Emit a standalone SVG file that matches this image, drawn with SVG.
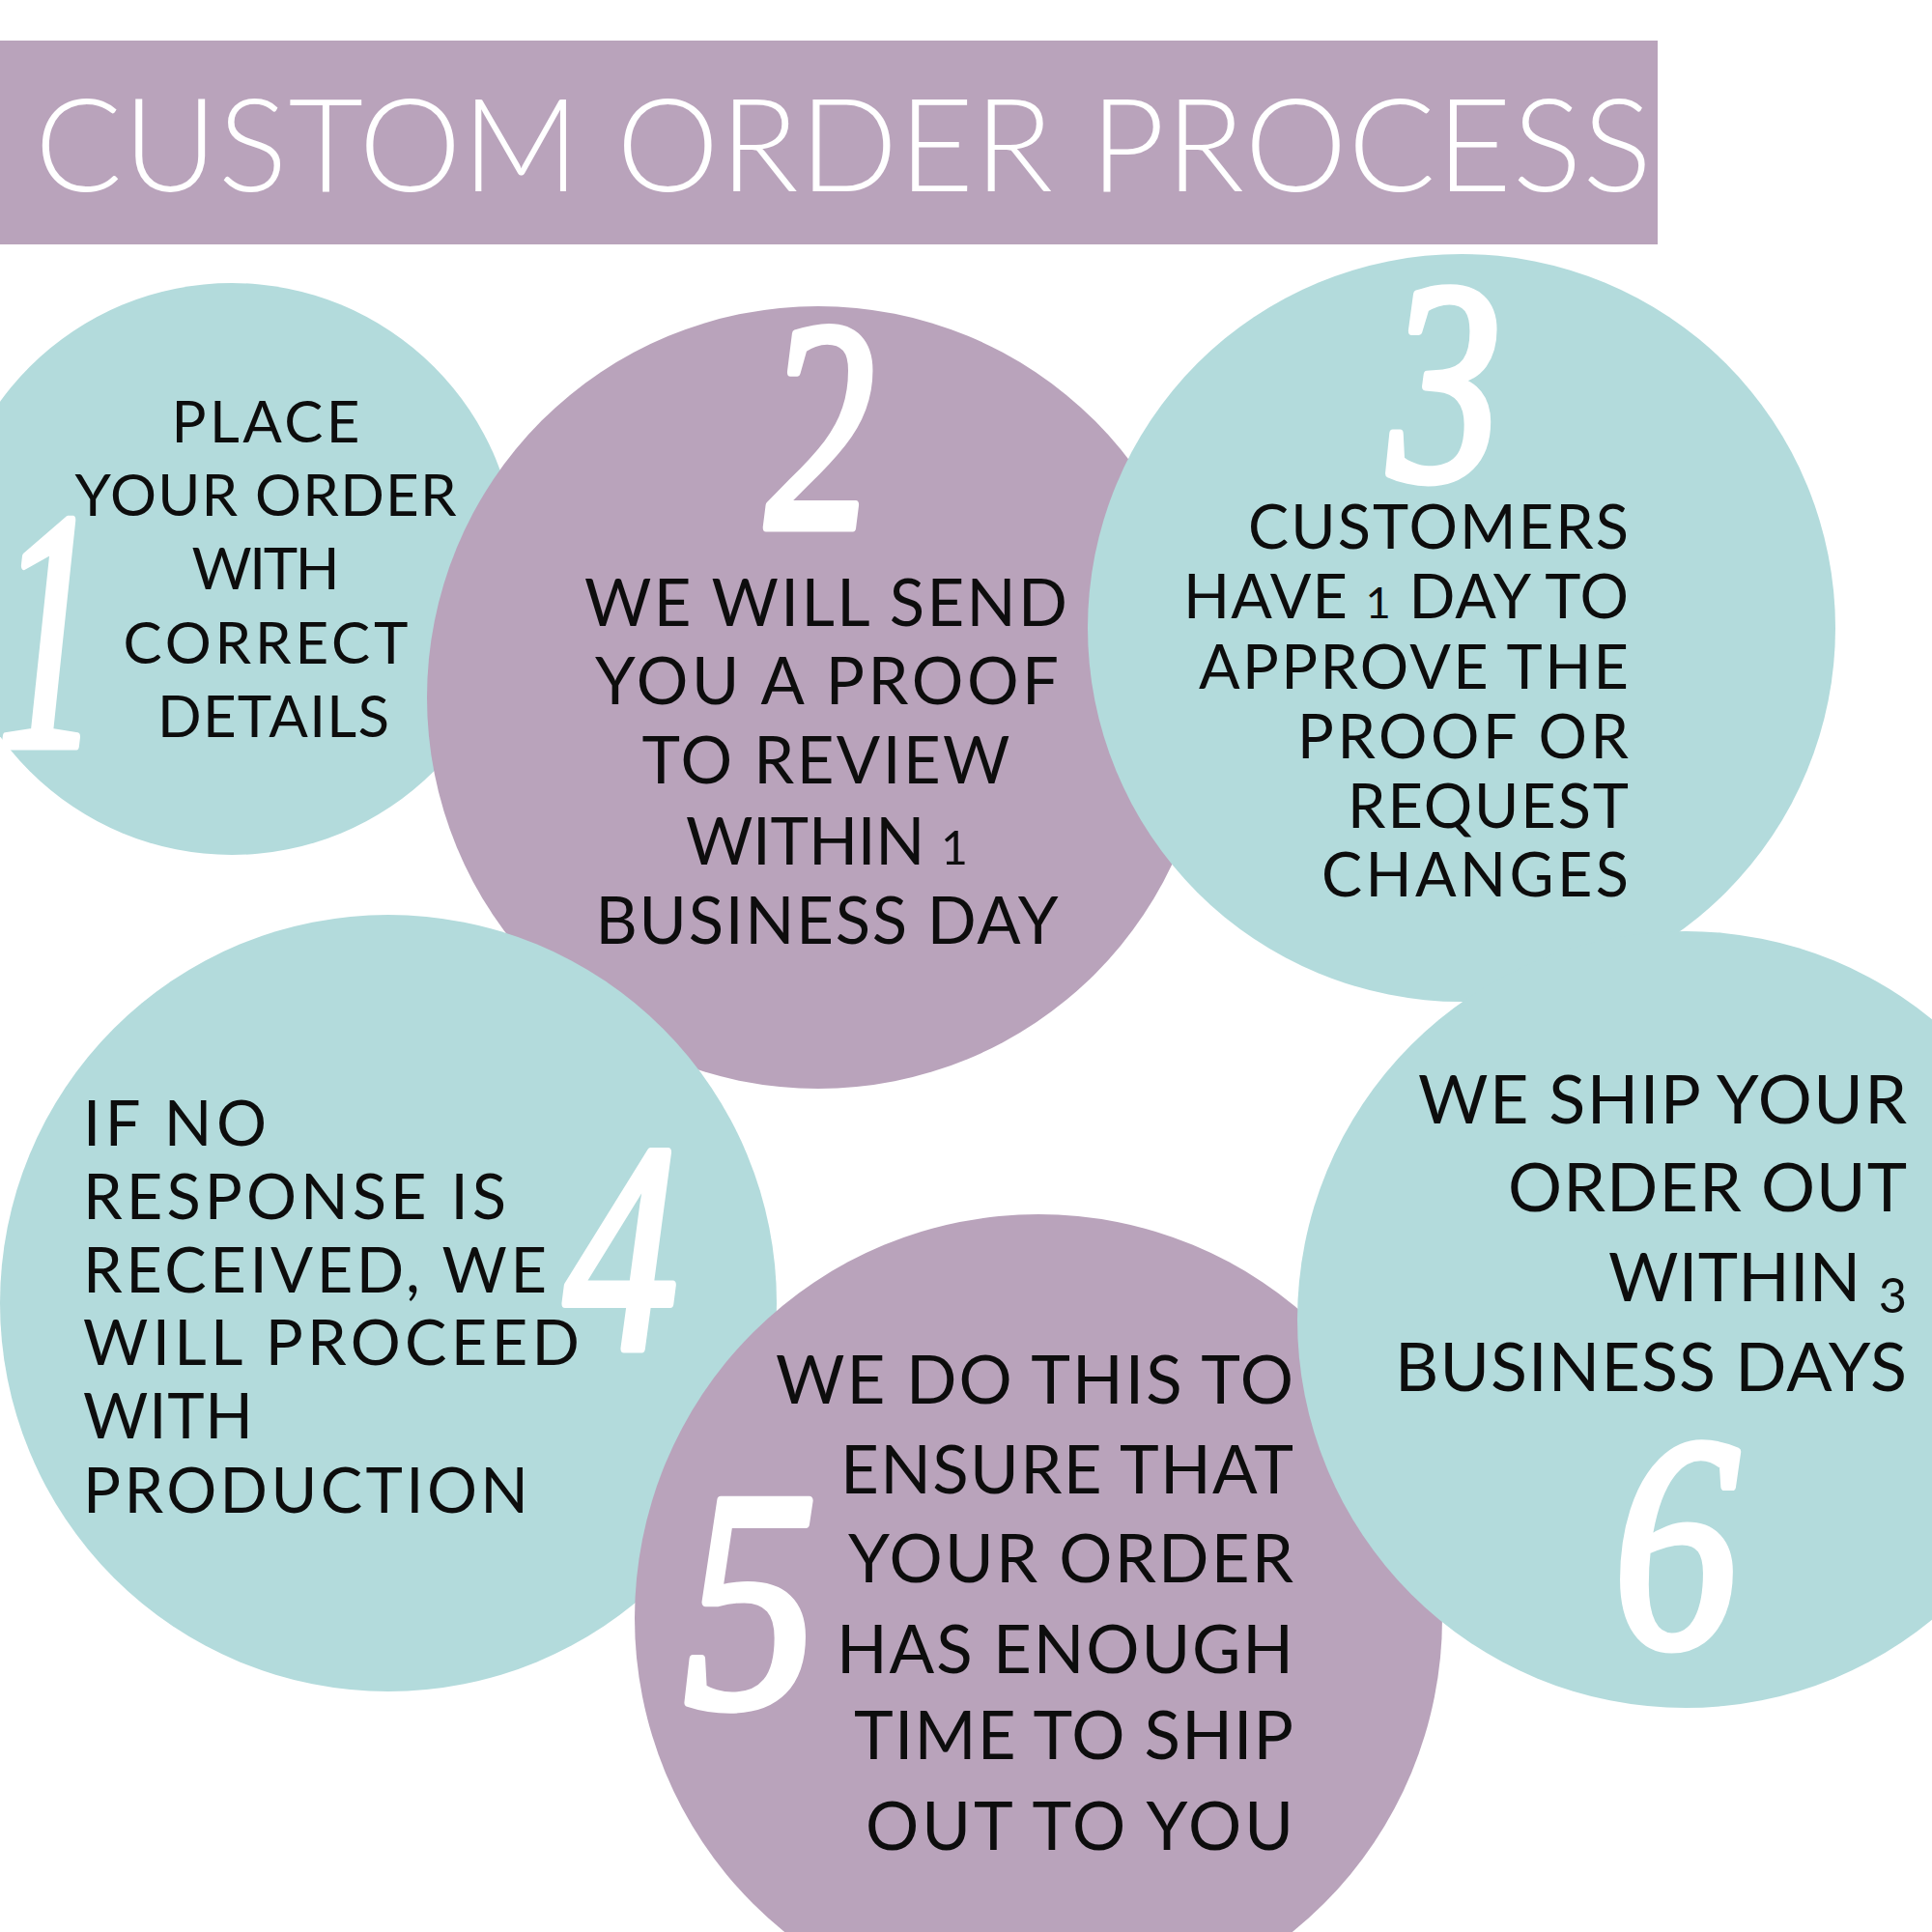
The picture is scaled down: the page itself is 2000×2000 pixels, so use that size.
<svg xmlns="http://www.w3.org/2000/svg" width="2000" height="2000" viewBox="0 0 2000 2000">
<style>
.teal{fill:#b3dbdc}
.purple{fill:#b9a3bb}
.t{font-family:Lato,"Open Sans","Liberation Sans",sans-serif;font-weight:400;fill:#0d0d0d}
.m{text-anchor:middle}
.e{text-anchor:end}
.num{font-family:"Liberation Serif","DejaVu Serif",serif;font-style:italic;fill:#fff;stroke:#fff;stroke-width:9;stroke-linejoin:round;text-anchor:middle}
.os{font-size:0.72em}
</style>
<rect width="2000" height="2000" fill="#fff"/>
<g id="title">
<rect x="0" y="42" width="1716" height="211" class="purple"/>
<text x="36" y="198" font-family="Lato,'Open Sans',sans-serif" font-weight="300" font-size="134" fill="#fff" textLength="1674" lengthAdjust="spacing">CUSTOM ORDER PROCESS</text>
</g>
<g id="step1">
<circle cx="240" cy="589" r="296" class="teal"/>
<text class="num" transform="translate(50,772) scale(0.6,1)" x="0" y="0" font-size="354">1</text>
<g class="t m" font-size="60">
<text x="275" y="458" textLength="195" lengthAdjust="spacing">PLACE</text>
<text x="275" y="534" textLength="395" lengthAdjust="spacing">YOUR ORDER</text>
<text x="275" y="610" textLength="153" lengthAdjust="spacing">WITH</text>
<text x="275" y="687" textLength="295" lengthAdjust="spacing">CORRECT</text>
<text x="283" y="763" textLength="240" lengthAdjust="spacing">DETAILS</text>
</g>
</g>
<g id="step2">
<circle cx="847" cy="722" r="405" class="purple"/>
<text class="num" transform="translate(849,546) scale(0.72,1)" x="0" y="0" font-size="312">2</text>
<g class="t m" font-size="67">
<text x="855" y="648" textLength="500" lengthAdjust="spacing">WE WILL SEND</text>
<text x="856" y="729" textLength="480" lengthAdjust="spacing">YOU A PROOF</text>
<text x="855" y="811" textLength="381" lengthAdjust="spacing">TO REVIEW</text>
<text x="856" y="895" textLength="292" lengthAdjust="spacing">WITHIN <tspan class="os">1</tspan></text>
<text x="856" y="977" textLength="479" lengthAdjust="spacing">BUSINESS DAY</text>
</g>
</g>
<g id="step3">
<circle cx="1513" cy="650" r="387" class="teal"/>
<text class="num" transform="translate(1496,496) scale(0.78,1)" x="0" y="0" font-size="298">3</text>
<g class="t e" font-size="63">
<text x="1686" y="568" textLength="394" lengthAdjust="spacing">CUSTOMERS</text>
<text x="1686" y="640" textLength="461" lengthAdjust="spacing">HAVE <tspan class="os">1</tspan> DAY TO</text>
<text x="1686" y="713" textLength="445" lengthAdjust="spacing">APPROVE THE</text>
<text x="1686" y="785" textLength="343" lengthAdjust="spacing">PROOF OR</text>
<text x="1686" y="857" textLength="291" lengthAdjust="spacing">REQUEST</text>
<text x="1686" y="928" textLength="318" lengthAdjust="spacing">CHANGES</text>
</g>
</g>
<g id="step4">
<circle cx="402" cy="1349" r="402" class="teal"/>
<text class="num" transform="translate(643,1396) scale(0.76,1)" x="0" y="0" font-size="309">4</text>
<g class="t" font-size="65">
<text x="86" y="1186" textLength="190" lengthAdjust="spacing">IF NO</text>
<text x="86" y="1262" textLength="438" lengthAdjust="spacing">RESPONSE IS</text>
<text x="86" y="1338" textLength="480" lengthAdjust="spacing">RECEIVED, WE</text>
<text x="86" y="1413" textLength="514" lengthAdjust="spacing">WILL PROCEED</text>
<text x="86" y="1489" textLength="176" lengthAdjust="spacing">WITH</text>
<text x="86" y="1566" textLength="461" lengthAdjust="spacing">PRODUCTION</text>
</g>
</g>
<g id="step5">
<circle cx="1075" cy="1675" r="418" class="purple"/>
<text class="num" transform="translate(777,1766) scale(0.85,1)" x="0" y="0" font-size="325">5</text>
<g class="t e" font-size="69">
<text x="1339" y="1453" textLength="536" lengthAdjust="spacing">WE DO THIS TO</text>
<text x="1339" y="1546" textLength="469" lengthAdjust="spacing">ENSURE THAT</text>
<text x="1339" y="1638" textLength="461" lengthAdjust="spacing">YOUR ORDER</text>
<text x="1339" y="1732" textLength="473" lengthAdjust="spacing">HAS ENOUGH</text>
<text x="1339" y="1821" textLength="455" lengthAdjust="spacing">TIME TO SHIP</text>
<text x="1339" y="1915" textLength="443" lengthAdjust="spacing">OUT TO YOU</text>
</g>
</g>
<g id="step6">
<circle cx="1745" cy="1366" r="402" class="teal"/>
<text class="num" transform="translate(1735,1704) scale(0.82,1)" x="0" y="0" font-size="316">6</text>
<g class="t e" font-size="70">
<text x="1974" y="1163" textLength="506" lengthAdjust="spacing">WE SHIP YOUR</text>
<text x="1974" y="1254" textLength="413" lengthAdjust="spacing">ORDER OUT</text>
<text x="1974" y="1347" textLength="309" lengthAdjust="spacing">WITHIN <tspan class="os" dy="12">3</tspan></text>
<text x="1974" y="1440" textLength="530" lengthAdjust="spacing">BUSINESS DAYS</text>
</g>
</g>
</svg>
